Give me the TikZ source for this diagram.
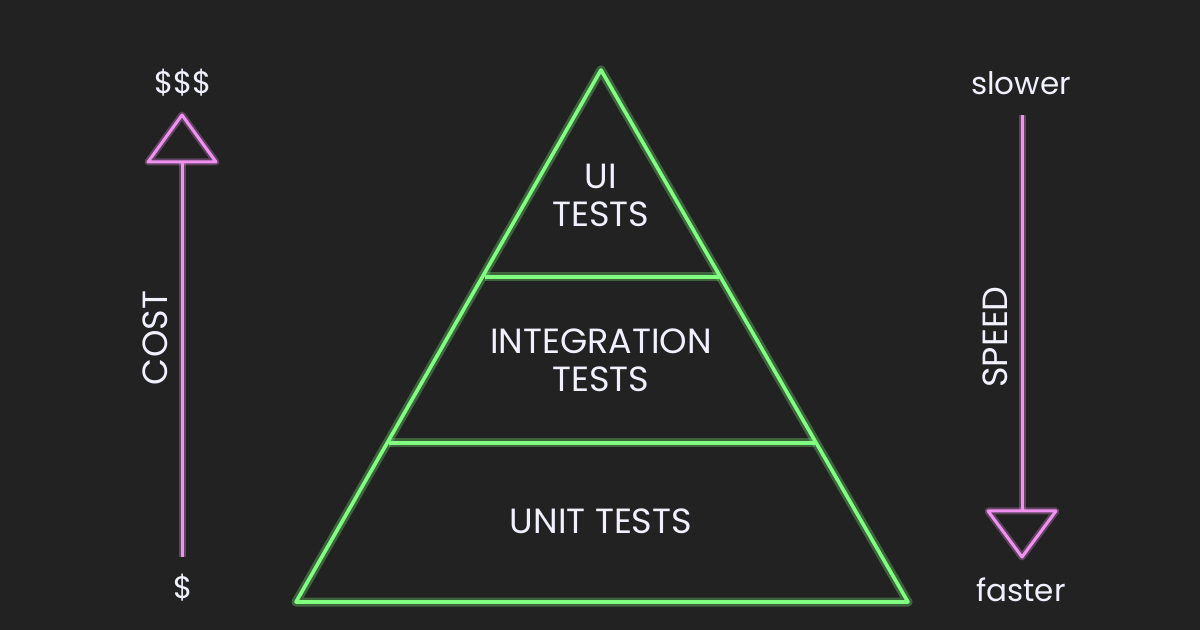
\documentclass[tikz,border=0pt]{standalone}
\usepackage{fontspec}
\setmainfont{Poppins}
\definecolor{bg}{HTML}{222222}
\definecolor{grn}{HTML}{80FF80}
\definecolor{pnk}{HTML}{F090F0}
\definecolor{txt}{HTML}{F0F0FF}
\begin{document}
\begin{tikzpicture}[x=0.5pt,y=-0.5pt,
  glowg/.style={draw=grn,line width=4.5pt,opacity=0.3,line join=round},
  lineg/.style={draw=grn,line width=1.8pt,line join=round},
  glowp/.style={draw=pnk,line width=3.5pt,opacity=0.3,line join=round},
  linep/.style={draw=pnk,line width=1.5pt,line join=round},
  lab/.style={text=txt,font=\fontsize{17.5}{19}\selectfont,align=center,inner sep=0pt},
  sm/.style={text=txt,font=\fontsize{15.5}{17}\selectfont,inner sep=0pt}]
\fill[bg] (0,0) rectangle (1200,630);
\useasboundingbox (0,0) rectangle (1200,630);
\foreach \s in {glowg,lineg}{
\draw[\s] (601,70) -- (908,602) -- (296,602) -- cycle;
\draw[\s] (485,277) -- (719,277);
\draw[\s] (389,443) -- (815,443);
}
\node[lab] (ui) at (601,195) {UI\\TESTS};
\node[lab] (it) at (601,360) {INTEGRATION\\TESTS};
\node[lab] (ut) at (601,521) {UNIT TESTS};
\node[sm] (c3) at (183,83) {\$\$\$};
\node[sm] (c1) at (183,588) {\$};
\node[lab,rotate=90] (cost) at (155,338) {COST};
\coordinate (lb) at (182,557);
\coordinate (lt) at (182,162);
\foreach \s in {glowp,linep}{
\draw[\s] (lb) -- (lt);
\draw[\s] (182,115) -- (216,162) -- (148,162) -- cycle;
}
\node[sm] (sl) at (1021,83) {slower};
\node[sm] (fa) at (1021,590) {faster};
\node[lab,rotate=90] (sp) at (995,337) {SPEED};
\coordinate (rt) at (1022,115);
\coordinate (rb) at (1022,511);
\foreach \s in {glowp,linep}{
\draw[\s] (rt) -- (rb);
\draw[\s] (1022,557) -- (1056,511) -- (988,511) -- cycle;
}
\end{tikzpicture}
\end{document}
